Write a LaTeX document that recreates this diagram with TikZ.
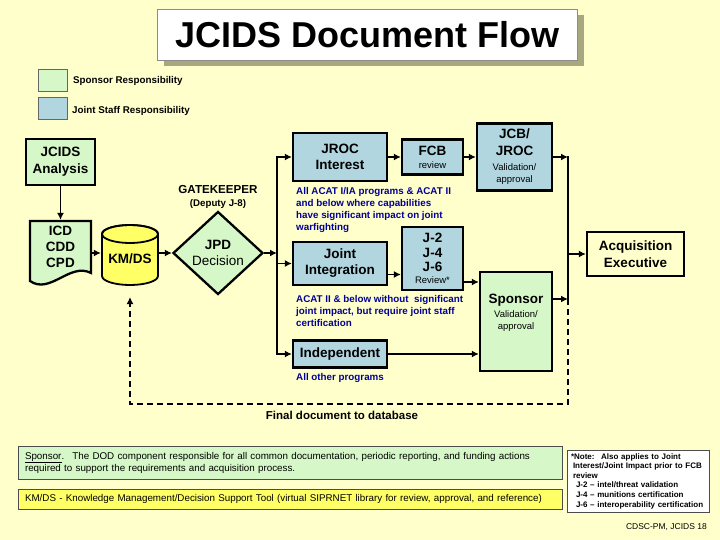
\documentclass[tikz,border=0pt]{standalone}
\usepackage{fontspec}
\setmainfont{Liberation Sans}
\usetikzlibrary{shapes.geometric,arrows.meta,shadows}

\definecolor{bgyellow}{RGB}{255,255,204}
\definecolor{sponsorgreen}{RGB}{214,248,200}
\definecolor{jointblue}{RGB}{178,214,224}
\definecolor{dbyellow}{RGB}{255,255,102}
\definecolor{navytext}{RGB}{0,0,153}
\definecolor{shadowgray}{RGB}{168,168,128}
\newcommand\smtxt[1]{{\fontsize{9.5}{11}\selectfont\mdseries #1}}

\begin{document}
\begin{tikzpicture}
  [x=1pt,y=-1pt,every node/.style={inner sep=0pt},
   blk/.style={draw,line width=2.3pt,align=center,font=\fontsize{13.5}{16}\selectfont\bfseries},
   spn/.style={blk,fill=sponsorgreen},
   jst/.style={blk,fill=jointblue},
   legbox/.style={draw=black!60,line width=0.8pt,minimum width=29,minimum height=22},
   legtxt/.style={anchor=west,font=\fontsize{9.8}{12}\selectfont\bfseries},
   bluetxt/.style={anchor=north west,align=left,text=navytext,font=\fontsize{9.8}{12.2}\selectfont\bfseries},
   defbox/.style={draw=black!70,line width=0.8pt,minimum width=544,text width=530,align=left,font=\fontsize{9.8}{12}\selectfont},
   arr/.style={line width=1.8pt,-{Latex[length=7pt,width=7pt]}},
   busline/.style={line width=1.8pt,line cap=rect},
   dbline/.style={line width=1.8pt,dash pattern=on 6pt off 4pt,-{Latex[length=7pt,width=7pt]}}]
  \useasboundingbox (0,0) rectangle (720,540);
  \fill[bgyellow] (0,0) rectangle (720,540);

  \node[draw=black!45,line width=0.8pt,fill=white,minimum width=420,minimum height=51,
    general shadow={fill=shadowgray,shadow xshift=6pt,shadow yshift=-6pt},
    font=\fontsize{36}{40}\selectfont\bfseries] (title) at (367.5,34.5) {JCIDS Document Flow};

  \node[legbox,fill=sponsorgreen] (legsp) at (52.5,80) {};
  \node[legtxt] (legsptxt) at (73,81) {Sponsor Responsibility};
  \node[legbox,fill=jointblue] (legjs) at (52.5,108.5) {};
  \node[legtxt] (legjstxt) at (72,111) {Joint Staff Responsibility};

  \filldraw[fill=sponsorgreen,line width=2.3pt] (30,221) -- (91,221) -- (91,273)
    .. controls (70,262) and (50,295) .. (30,281) -- cycle;
  \filldraw[fill=dbyellow,line width=1.8pt] (102,234) -- (102,276)
    arc[start angle=180,end angle=0,x radius=28,y radius=9] -- (158,234)
    arc[start angle=0,end angle=-180,x radius=28,y radius=9] -- cycle;
  \draw[line width=1.8pt] (130,234) ellipse[x radius=28,y radius=9];

  \node[spn,minimum width=69,minimum height=46] (jcids) at (60.5,162) {JCIDS\\[1pt]Analysis};
  \node[blk,draw=none,minimum width=61,minimum height=52] (icd) at (60.5,247) {ICD\\CDD\\CPD};
  \node[blk,draw=none,minimum width=56] (kmds) at (130,259) {KM/DS};
  \node[spn,diamond,minimum width=90,minimum height=83] (jpd) at (218,253) {JPD\\{\mdseries Decision}};
  \node[font=\fontsize{11.6}{14}\selectfont\bfseries] (gate) at (218,190) {GATEKEEPER};
  \node[font=\fontsize{9.7}{12}\selectfont\bfseries] (deputy) at (218,204) {(Deputy J-8)};

  \node[jst,minimum width=94,minimum height=48] (jroc) at (340,157) {JROC\\Interest};
  \node[jst,minimum width=61,minimum height=35] (fcb) at (432.5,157) {FCB\\[-3pt]\smtxt{review}};
  \node[jst,minimum width=75,minimum height=67] (jcb) at (514.5,157)
    {JCB/\\[1pt]JROC\\[-1pt]\smtxt{Validation/}\\[-4pt]\smtxt{approval}};
  \node[blk,minimum width=97,minimum height=44] (acq) at (635.5,254) {Acquisition\\[1pt]Executive};
  \node[jst,minimum width=94,minimum height=43] (ji) at (340,263.5) {Joint\\Integration};
  \node[jst,minimum width=61,minimum height=63] (jrev) at (432.5,258.5)
    {J-2\\[-1pt]J-4\\[-2pt]J-6\\[-4pt]\smtxt{Review*}};
  \node[spn,minimum width=72,minimum height=99] (sponsor) at (516,321.5) {};
  \node[align=center,font=\fontsize{13.5}{16}\selectfont\bfseries] (sponsorlbl) at (516,313)
    {Sponsor\\[-2pt]\smtxt{Validation/}\\[-4pt]\smtxt{approval}};
  \node[jst,minimum width=94,minimum height=27] (ind) at (340,354) {Independent};

  \node[bluetxt] (jrocnote) at (296,187) {All ACAT I/IA programs \& ACAT II\\and below where capabilities\\have significant impact on joint\\warfighting};
  \node[bluetxt] (jinote) at (296,295) {ACAT II \& below without~ significant\\joint impact, but require joint staff\\certification};
  \node[bluetxt] (indnote) at (296,373) {All other programs};
  \node[font=\fontsize{11.5}{14}\selectfont\bfseries] (final) at (342,415) {Final document to database};

  \coordinate (b0) at (277,253);
  \coordinate (bt) at (277,157);
  \coordinate (bm) at (277,263.5);
  \coordinate (bb) at (277,354);
  \coordinate (rt) at (568,157);
  \coordinate (rm) at (568,254);
  \coordinate (rb) at (568,299);
  \coordinate (d1) at (568,404);
  \coordinate (d2) at (130,404);
  \coordinate (dtip) at (130,297);

  \draw[busline] (bt) -- (bb);
  \draw[busline] (rt) -- (rb);
  \foreach \from/\to in {jcids/icd,jroc/fcb,fcb/jcb,jcb/rt,jpd/b0,bt/jroc,bm/ji,bb/ind,rm/acq}
    \draw[arr] (\from) -- (\to);
  \draw[arr] (icd.east |- jpd) -- (kmds.west |- jpd);
  \draw[arr] (kmds.east |- jpd) -- (jpd);
  \draw[arr] ([yshift=-11pt]ji.east) -- ([yshift=-11pt]ji.east -| jrev.west);
  \draw[arr] ([yshift=-23.5pt]jrev.east) -- ([yshift=-23.5pt]jrev.east -| sponsor.west);
  \draw[arr] (ind.east) -- (ind.east -| sponsor.west);
  \draw[arr] (rb -| sponsor.east) -- (rb);
  \draw[dbline] (rb) -- (d1) -- (d2) -- (dtip);

  \node[defbox,fill=sponsorgreen,minimum height=33] (defsp) at (290,462.5)
    {\underline{Sponsor}.~ The DOD component responsible for all common documentation, periodic reporting, and funding actions\\required to support the requirements and acquisition process.};
  \node[defbox,fill=dbyellow,minimum height=20] (defkm) at (290,499)
    {KM/DS - Knowledge Management/Decision Support Tool (virtual SIPRNET library for review, approval, and reference)};
  \node[draw=black!70,line width=0.8pt,fill=white,minimum width=142,minimum height=62,text width=134,align=left,
    font=\fontsize{8}{9.6}\selectfont\bfseries] (note) at (638,481)
    {*Note:~ Also applies to Joint\\\hspace*{2pt}Interest/Joint Impact prior to FCB\\\hspace*{2pt}review\\\hspace*{5pt}J-2 – intel/threat validation\\\hspace*{5pt}J-4 – munitions certification\\\hspace*{5pt}J-6 – interoperability certification};
  \node[anchor=east,font=\fontsize{8.5}{10}\selectfont] (footer) at (707,527) {CDSC-PM, JCIDS 18};
\end{tikzpicture}
\end{document}
